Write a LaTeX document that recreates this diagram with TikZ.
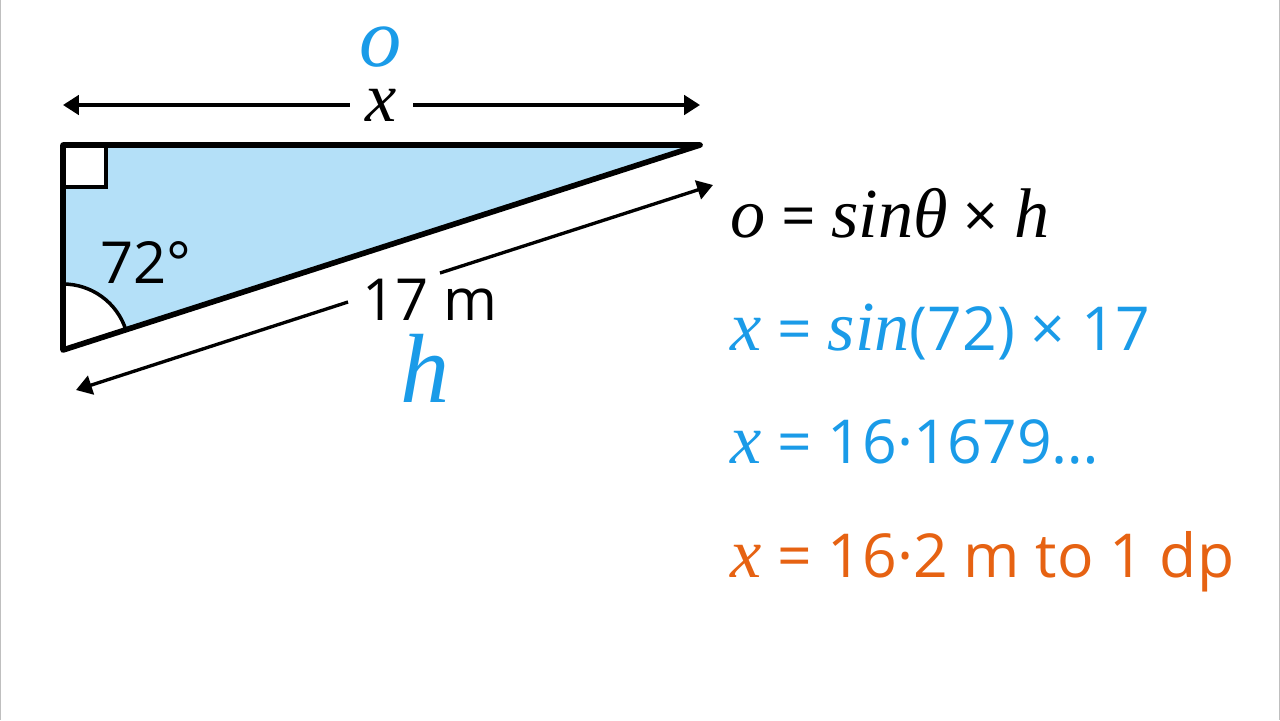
\documentclass[tikz,border=0pt]{standalone}
\usepackage{fontspec}
\setmainfont{Open Sans}
\newfontfamily\varfont{Liberation Serif}
\usetikzlibrary{arrows.meta,positioning}

\definecolor{skyfill}{RGB}{180,224,248}
\definecolor{ansblue}{RGB}{26,155,232}
\definecolor{ansorange}{RGB}{230,98,18}
\newcommand{\var}[1]{{\varfont\itshape\fontsize{40}{46}\selectfont #1}}

\tikzset{
  edge/.style={line width=3.2pt, line join=round},
  thinedge/.style={line width=2pt},
  tip/.tip={Triangle[length=9pt,width=11pt]},
  measure/.style={line width=1.9pt, -tip},
  eqn/.style={anchor=base west, inner sep=0pt, font=\fontsize{34.5}{40}\selectfont},
  lbl/.style={inner sep=0pt, font=\fontsize{33}{40}\selectfont},
  biglbl/.style={anchor=base, inner sep=0pt, text=ansblue, text height=24pt, text depth=0pt},
}

\begin{document}
\begin{tikzpicture}[x=0.02cm,y=-0.02cm]
\useasboundingbox (0,0) rectangle (1280,720);
\draw[gray!50, line width=0.6pt] (0.5,0) -- (0.5,720) (1279.5,0) -- (1279.5,720);

% triangle
\coordinate (A) at (63,350);
\coordinate (B) at (63,145);
\coordinate (C) at (700,145);
\fill[skyfill] (A) -- (B) -- (C) -- cycle;
\filldraw[fill=white, thinedge] (B) rectangle (106,187);
\fill[white] (A) -- ++(-90:66) arc[start angle=-90, end angle=-17.84, radius=66] -- cycle;
\draw[thinedge] (A) ++(-90:66) arc[start angle=-90, end angle=-17.84, radius=66];
\draw[edge] (A) -- (B) -- (C) -- cycle;

% side o
\coordinate (topL) at (63,105);
\coordinate (topR) at (700,105);
\draw[measure, tip-tip] (topL) -- node[fill=white, inner xsep=9pt, inner ysep=0pt] (xlabel) {\var{x}} (topR);
\node[biglbl] (olabel) at (381,66) {\var{\fontsize{48}{52}\selectfont o}};

% side h
\coordinate (hL) at (76,390);
\coordinate (hR) at (713,185);
\coordinate (gapL) at (348,302);
\coordinate (gapR) at (440,273);
\draw[measure] (gapL) -- (hL);
\draw[measure] (gapR) -- (hR);
\node[lbl, anchor=base west] (hyplabel) at (362,320) {17 m};
\node[biglbl, text height=36pt] (hlabel) at (425,402) {\var{\fontsize{56}{60}\selectfont h}};

% angle
\node[lbl, anchor=base west] (anglabel) at (100,283) {72°};

% working
\node[eqn] (eqone) at (730,237) {\var{o} = \var{sinθ} × \var{h}};
\node[eqn, text=ansblue] (eqtwo) at (730,350) {\var{x} = \var{sin}(72) × 17};
\node[eqn, text=ansblue] (eqthree) at (730,463) {\var{x} = 16·1679…};
\node[eqn, text=ansorange] (eqfour) at (730,577) {\var{x} = 16·2 m to 1 dp};
\end{tikzpicture}
\end{document}
